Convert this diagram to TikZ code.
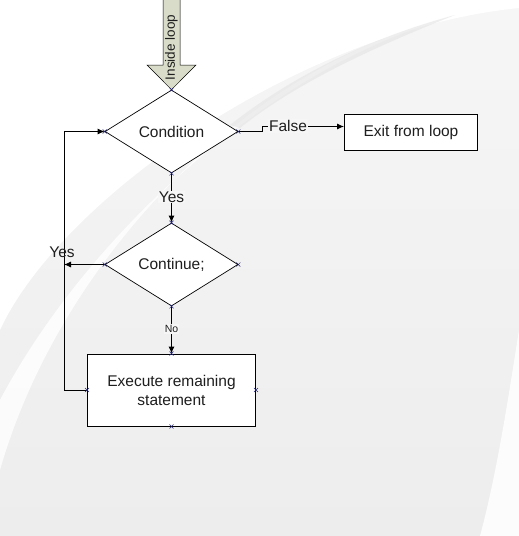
\documentclass[tikz,border=0pt]{standalone}
\usepackage{fontspec}
\setmainfont{Liberation Sans}
\usetikzlibrary{shapes.geometric,arrows.meta,calc}
\definecolor{txt}{HTML}{1E1E1E}
\definecolor{bgA}{HTML}{F6F6F6}
\definecolor{bgB}{HTML}{EDEDED}
\definecolor{band}{HTML}{E4E4E4}
\definecolor{arrfill}{HTML}{D9DCC8}
\definecolor{mark}{HTML}{23236E}
\tikzset{
  every node/.style={text=txt},
  decision/.style={draw=black, fill=white, shape=diamond, minimum width=133pt, minimum height=83pt, inner sep=0pt, font=\fontsize{15.5}{17}\selectfont, line width=0.7pt},
  procbox/.style={draw=black, fill=white, rectangle, inner sep=0pt, align=center, font=\fontsize{15.5}{19}\selectfont, line width=0.9pt},
  conn/.style={draw=black, line width=0.9pt},
  tip/.style={-{Latex[length=7pt,width=6pt]}},
  lbl/.style={font=\fontsize{15.5}{17}\selectfont, inner sep=1pt},
  xmark/.style={draw=mark, line width=0.5pt},
}
\newcommand{\xm}[1]{\draw[xmark] ($(#1)+(-2,-2)$) -- ($(#1)+(2,2)$) ($(#1)+(-2,2)$) -- ($(#1)+(2,-2)$);}
\begin{document}
\begin{tikzpicture}[x=1pt,y=-1pt]
\useasboundingbox (0,0) rectangle (519,536);
% background
\shade[top color=bgA, bottom color=bgB] (0,0) rectangle (519,536);
\fill[white] (0,0) -- (519,0) -- (519,8) .. controls (300,30) and (60,200) .. (0,330) -- cycle;
\fill[white, opacity=0.8] (0,470) .. controls (60,260) and (250,60) .. (460,15) .. controls (280,60) and (90,230) .. (0,400) -- cycle;
\fill[band, opacity=0.6] (230,125) .. controls (300,70) and (380,35) .. (455,15) .. controls (380,45) and (300,80) .. (240,128) -- cycle;
\fill[white, opacity=0.85] (519,330) .. controls (505,420) and (495,480) .. (480,536) -- (519,536) -- cycle;

% nodes
\node[decision] (cond) at (171.5,131.5) {Condition};
\node[decision] (cont) at (171.5,264.5) {Continue;};
\node[procbox, minimum width=133pt, minimum height=36pt] (exit) at (411,132) {Exit from loop};
\node[procbox, minimum width=168pt, minimum height=72pt] (exec) at (171.5,390) {Execute remaining\\statement};

% entry arrow
\draw[black, line width=0.5pt, fill=arrfill] (163,-1) -- (180,-1) -- (180,65) -- (196,65) -- (cond.north) -- (147,65) -- (163,65) -- cycle;
\node[rotate=90, font=\fontsize{13.5}{15}\selectfont, inner sep=0pt] (inl) at (171.5,47.5) {Inside loop};

% connectors
\coordinate (fstep) at (262,126.5);
\coordinate (exitin) at ($(exit.west)+(0,-5.5)$);
\draw[conn] (cond.east) -- (fstep |- cond.east) -- (fstep);
\draw[conn, tip] (fstep) -- (exitin);
\node[lbl, fill=bgA] (lfalse) at (288,126) {False};

\draw[conn, tip] (cond.south) -- (cont.north);
\node[lbl, fill=bgA] (lyes1) at (171.5,197) {Yes};

\coordinate (lj) at (64,264.5);
\draw[conn, tip] (cont.west) -- (lj);
\draw[conn, tip] (exec.west) -- (64,390) -- (64,131.5) -- (cond.west);
\node[lbl] (lyes2) at (62,252) {Yes};

\draw[conn, tip] (cont.south) -- (exec.north);
\node[font=\fontsize{10.5}{12}\selectfont, fill=bgA, inner sep=1pt] (lno) at (171.5,329) {No};

% connection marks
\xm{cond.north}\xm{cond.south}\xm{cond.east}\xm{cond.west}
\xm{cont.north}\xm{cont.south}\xm{cont.east}\xm{cont.west}
\xm{exec.north}\xm{exec.south}\xm{exec.east}\xm{exec.west}
\end{tikzpicture}
\end{document}
